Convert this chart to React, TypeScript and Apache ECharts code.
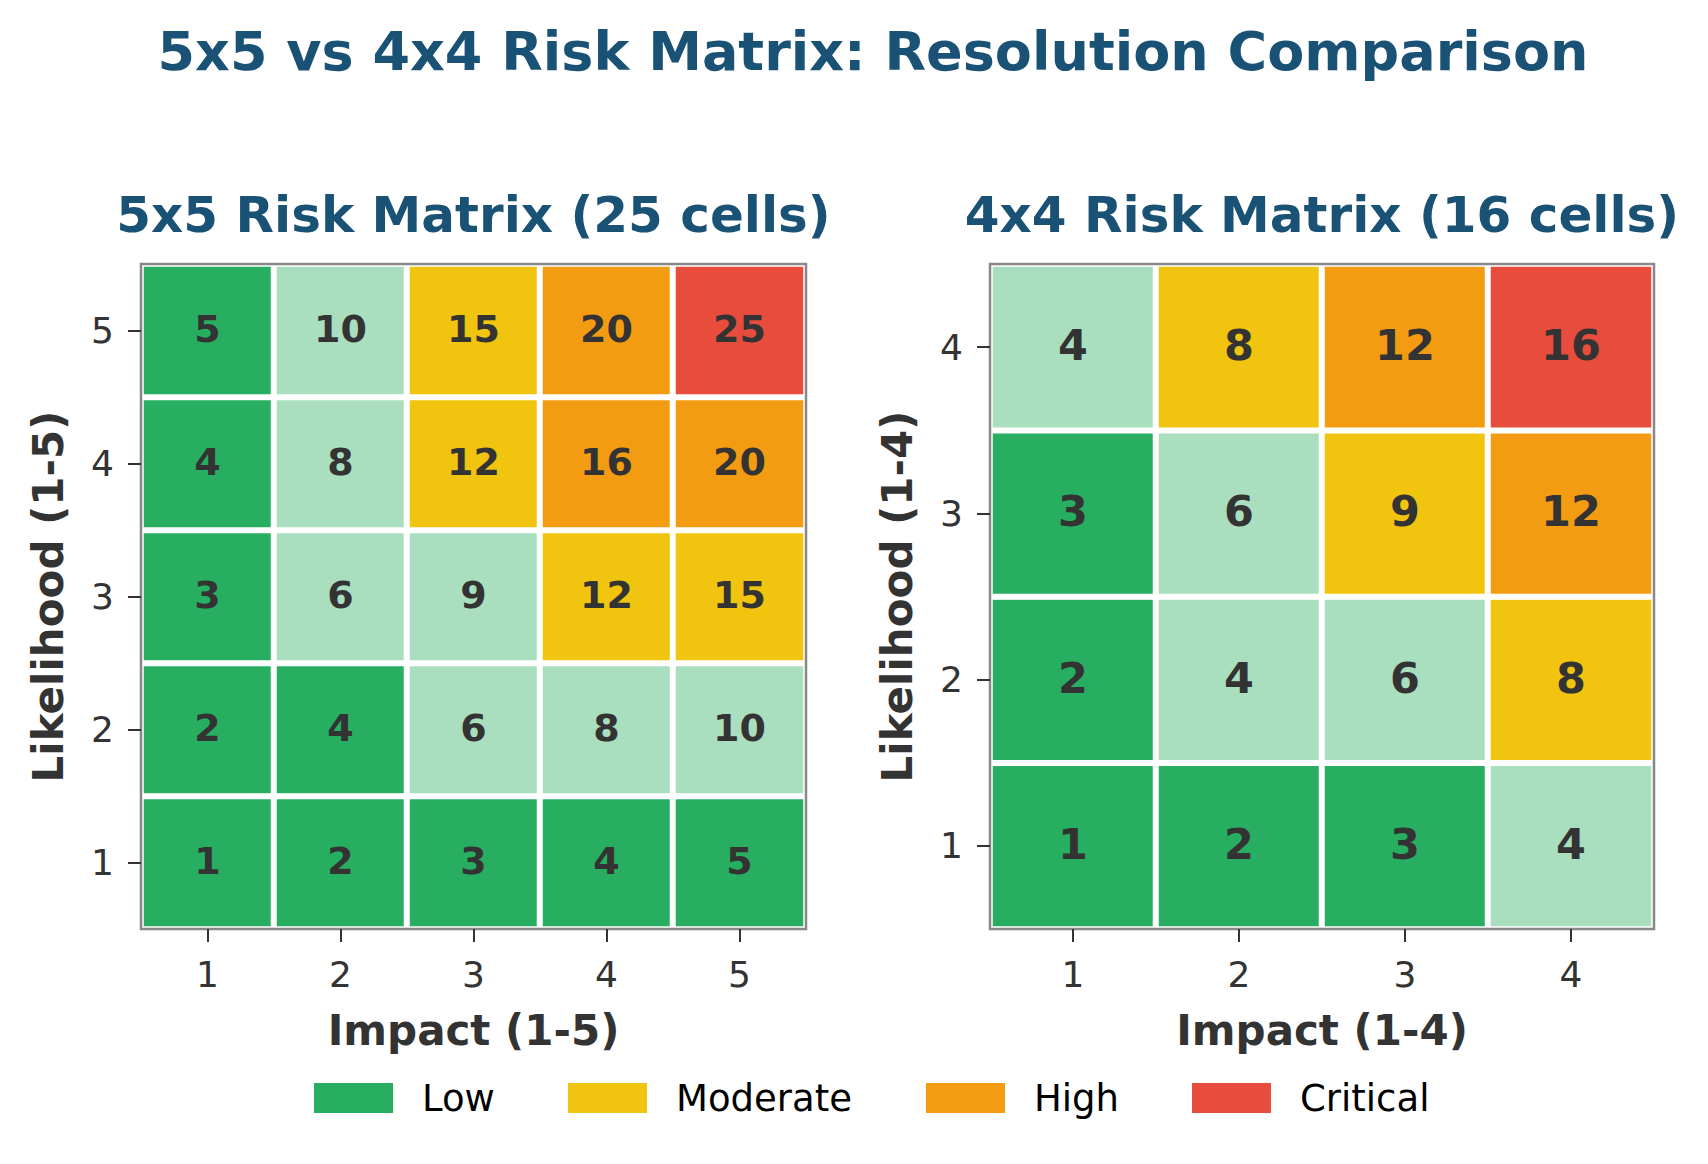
import React, { useEffect, useRef } from "react";
import * as echarts from "echarts";

const impact5 = ["1", "2", "3", "4", "5"];
const likelihood5 = ["1", "2", "3", "4", "5"];
// rows: likelihood 1..5, cols: impact 1..5
const scores5 = [
  [1, 2, 3, 4, 5],
  [2, 4, 6, 8, 10],
  [3, 6, 9, 12, 15],
  [4, 8, 12, 16, 20],
  [5, 10, 15, 20, 25],
];
// 0 Low, 1 Low-Moderate (light), 2 Moderate, 3 High, 4 Critical
const levels5 = [
  [0, 0, 0, 0, 0],
  [0, 0, 1, 1, 1],
  [0, 1, 1, 2, 2],
  [0, 1, 2, 3, 3],
  [0, 1, 2, 3, 4],
];

const impact4 = ["1", "2", "3", "4"];
const likelihood4 = ["1", "2", "3", "4"];
const scores4 = [
  [1, 2, 3, 4],
  [2, 4, 6, 8],
  [3, 6, 9, 12],
  [4, 8, 12, 16],
];
const levels4 = [
  [0, 0, 0, 1],
  [0, 1, 1, 2],
  [0, 1, 2, 3],
  [1, 2, 3, 4],
];

const levelColors = ["#27ae60", "#a9dfbf", "#f1c40f", "#f39c12", "#e74c3c"];
const legendLabels = ["Low", "Moderate", "High", "Critical"];
const legendLevels = [0, 2, 3, 4];

const mainTitle = "5x5 vs 4x4 Risk Matrix: Resolution Comparison";
const subTitles = ["5x5 Risk Matrix (25 cells)", "4x4 Risk Matrix (16 cells)"];
const xNames = ["Impact (1-5)", "Impact (1-4)"];
const yNames = ["Likelihood (1-5)", "Likelihood (1-4)"];

const FONT = "DejaVu Sans";
const TEXT = "#333333";

function buildData(scores: number[][], levels: number[][]) {
  const out: number[][] = [];
  scores.forEach((row, yi) =>
    row.forEach((v, xi) => out.push([xi, yi, v, levels[yi][xi]]))
  );
  return out;
}

export default function App() {
  const ref = useRef<HTMLDivElement>(null);
  useEffect(() => {
    if (!ref.current) return;
    const chart = echarts.init(ref.current, null, { renderer: "svg" });

    const grids = [
      { left: 141, top: 264, width: 665, height: 665 },
      { left: 990, top: 264, width: 664, height: 665 },
    ];
    const xCats = [impact5, impact4];
    const yCats = [likelihood5, likelihood4];

    const axisCommon = {
      type: "category" as const,
      z: 6,
      axisLine: { show: false },
      axisTick: {
        show: true,
        alignWithLabel: true,
        length: 13,
        lineStyle: { color: TEXT, width: 2 },
      },
      axisLabel: { fontSize: 36, color: TEXT, fontFamily: FONT, margin: 27 },
      splitLine: { show: false },
      nameLocation: "middle" as const,
      nameTextStyle: {
        fontSize: 42,
        fontWeight: "bold" as const,
        color: TEXT,
        fontFamily: FONT,
      },
    };

    const graphic: any[] = [];
    graphic.push({
      type: "text",
      x: 873,
      y: 51,
      style: {
        text: mainTitle,
        align: "center",
        verticalAlign: "middle",
        fontSize: 54,
        fontWeight: "bold",
        fontFamily: FONT,
        fill: "#1a5276",
      },
    });
    subTitles.forEach((t, i) => {
      graphic.push({
        type: "text",
        x: grids[i].left + grids[i].width / 2,
        y: 215,
        style: {
          text: t,
          align: "center",
          verticalAlign: "middle",
          fontSize: 50,
          fontWeight: "bold",
          fontFamily: FONT,
          fill: "#1a5276",
        },
      });
    });
    const legendX = [314, 568, 926, 1192];
    legendLabels.forEach((lab, i) => {
      graphic.push({
        type: "rect",
        shape: { x: legendX[i], y: 1083, width: 79, height: 30 },
        style: { fill: levelColors[legendLevels[i]] },
      });
      graphic.push({
        type: "text",
        x: legendX[i] + 108,
        y: 1098,
        style: {
          text: lab,
          align: "left",
          verticalAlign: "middle",
          fontSize: 37,
          fontFamily: FONT,
          fill: "#000000",
        },
      });
    });

    const labelCommon = {
      show: true,
      formatter: (p: any) => String(p.value[2]),
      fontWeight: "bold",
      color: TEXT,
      fontFamily: FONT,
      offset: [0, -2],
    };

    const option: any = {
      animation: false,
      backgroundColor: "#ffffff",
      grid: grids.map((g) => ({
        ...g,
        show: true,
        z: 5,
        backgroundColor: "transparent",
        borderColor: "#888888",
        borderWidth: 2.5,
      })),
      xAxis: xCats.map((c, i) => ({
        ...axisCommon,
        gridIndex: i,
        data: c,
        position: "bottom",
        name: xNames[i],
        nameGap: 80,
      })),
      yAxis: yCats.map((c, i) => ({
        ...axisCommon,
        gridIndex: i,
        data: c,
        position: "left",
        name: yNames[i],
        nameGap: 72,
        nameRotate: 90,
      })),
      visualMap: {
        type: "piecewise",
        show: false,
        dimension: 3,
        seriesIndex: [0, 1],
        pieces: levelColors.map((c, i) => ({ value: i, color: c })),
      },
      series: [
        {
          type: "heatmap",
          xAxisIndex: 0,
          yAxisIndex: 0,
          data: buildData(scores5, levels5),
          itemStyle: { borderColor: "#ffffff", borderWidth: 6 },
          label: { ...labelCommon, fontSize: 38 },
          emphasis: { disabled: true },
        },
        {
          type: "heatmap",
          xAxisIndex: 1,
          yAxisIndex: 1,
          data: buildData(scores4, levels4),
          itemStyle: { borderColor: "#ffffff", borderWidth: 6 },
          label: { ...labelCommon, fontSize: 43 },
          emphasis: { disabled: true },
        },
      ],
      graphic,
    };
    chart.setOption(option);
    return () => chart.dispose();
  }, []);
  return (
    <div
      ref={ref}
      style={{ position: "absolute", left: 0, top: 0, width: 1708, height: 1164 }}
    />
  );
}
